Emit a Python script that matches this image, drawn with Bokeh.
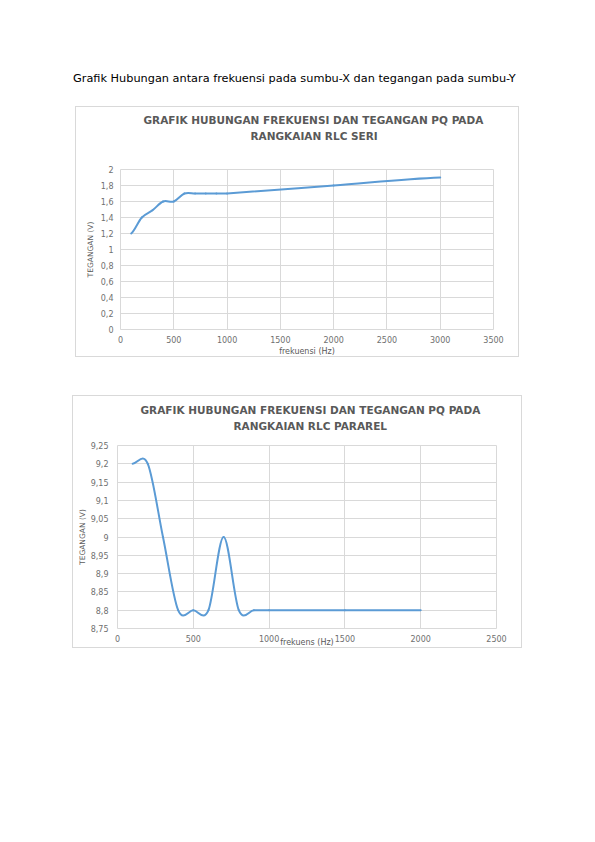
from bokeh.plotting import figure
from bokeh.models import FixedTicker, Title, Div, Range1d
from bokeh.layouts import column
from bokeh.embed import file_html
from bokeh.resources import INLINE

header_text = "Grafik Hubungan antara frekuensi pada sumbu-X dan tegangan pada sumbu-Y"

# --- Chart 1: RLC seri ---
seri_title_1 = "GRAFIK HUBUNGAN FREKUENSI DAN TEGANGAN PQ PADA"
seri_title_2 = "RANGKAIAN RLC SERI"
seri_freq = [100, 200, 300, 400, 500, 600, 700, 800, 900, 1000, 2000, 3000]
seri_volt = [1.2, 1.4, 1.49, 1.6, 1.6, 1.7, 1.7, 1.7, 1.7, 1.7, 1.8, 1.9]
seri_x_ticks = [0, 500, 1000, 1500, 2000, 2500, 3000, 3500]
seri_x_labels = ["0", "500", "1000", "1500", "2000", "2500", "3000", "3500"]
seri_y_ticks = [0, 0.2, 0.4, 0.6, 0.8, 1, 1.2, 1.4, 1.6, 1.8, 2]
seri_y_labels = ["0", "0,2", "0,4", "0,6", "0,8", "1", "1,2", "1,4", "1,6", "1,8", "2"]
seri_xlabel = "frekuensi (Hz)"

# --- Chart 2: RLC pararel ---
par_title_1 = "GRAFIK HUBUNGAN FREKUENSI DAN TEGANGAN PQ PADA"
par_title_2 = "RANGKAIAN RLC PARAREL"
par_freq = [100, 200, 300, 400, 500, 600, 700, 800, 900, 1000, 1500, 2000]
par_volt = [9.2, 9.2, 9.0, 8.8, 8.8, 8.8, 9.0, 8.8, 8.8, 8.8, 8.8, 8.8]
par_x_ticks = [0, 500, 1000, 1500, 2000, 2500]
par_x_labels = ["0", "500", "1000", "1500", "2000", "2500"]
par_y_ticks = [8.75, 8.8, 8.85, 8.9, 8.95, 9.0, 9.05, 9.1, 9.15, 9.2, 9.25]
par_y_labels = ["8,75", "8,8", "8,85", "8,9", "8,95", "9", "9,05", "9,1", "9,15", "9,2", "9,25"]
par_xlabel = "frekuens (Hz)"

ylabel = "TEGANGAN (V)"

LINE = "#5b9bd5"
GRID = "#d9d9d9"
TXT = "#595959"
TICK = "#6f6f6f"
FONT = "DejaVu Sans"


def smooth_segments(xs, ys):
    """Smoothed line (Excel-like): cubic Bezier with tangents from neighbouring points."""
    n = len(xs)
    slopes = []
    for i in range(n):
        if i == 0:
            slopes.append((ys[1] - ys[0]) / (xs[1] - xs[0]) / 2.0)
        elif i == n - 1:
            slopes.append((ys[-1] - ys[-2]) / (xs[-1] - xs[-2]) / 2.0)
        else:
            slopes.append((ys[i + 1] - ys[i - 1]) / (xs[i + 1] - xs[i - 1]))
    seg = dict(x0=[], y0=[], x1=[], y1=[], cx0=[], cy0=[], cx1=[], cy1=[])
    for i in range(n - 1):
        dx = xs[i + 1] - xs[i]
        seg["x0"].append(xs[i]); seg["y0"].append(ys[i])
        seg["x1"].append(xs[i + 1]); seg["y1"].append(ys[i + 1])
        seg["cx0"].append(xs[i] + dx / 3.0)
        seg["cy0"].append(ys[i] + slopes[i] * dx / 3.0)
        seg["cx1"].append(xs[i + 1] - dx / 3.0)
        seg["cy1"].append(ys[i + 1] - slopes[i + 1] * dx / 3.0)
    return seg


def make_chart(width, height, xr, yr, xt, xl, yt, yl, t1, t2, xlab, xs, ys,
               borders, margin, off1, off2, gap, xlab_standoff, ylab_standoff,
               y_label_standoff):
    p = figure(width=width, height=height, x_range=Range1d(*xr), y_range=Range1d(*yr),
               output_backend="svg", toolbar_location=None, title=None,
               min_border_left=borders[0], min_border_right=borders[1],
               min_border_top=borders[2], min_border_bottom=borders[3],
               margin=margin, styles={"border": "1px solid " + GRID})
    p.outline_line_color = GRID
    p.background_fill_color = "white"
    p.border_fill_color = "white"
    p.xgrid.grid_line_color = GRID
    p.ygrid.grid_line_color = GRID
    p.xaxis.ticker = FixedTicker(ticks=xt)
    p.yaxis.ticker = FixedTicker(ticks=yt)
    p.xaxis.major_label_overrides = dict(zip(xt, xl))
    p.yaxis.major_label_overrides = dict(zip(yt, yl))
    for ax in (p.xaxis[0], p.yaxis[0]):
        ax.axis_line_color = None
        ax.major_tick_line_color = None
        ax.minor_tick_line_color = None
        ax.major_tick_in = 0
        ax.major_tick_out = 0
        ax.minor_tick_in = 0
        ax.minor_tick_out = 0
        ax.major_label_text_font = FONT
        ax.major_label_text_font_size = "8px"
        ax.major_label_text_color = TICK
        ax.axis_label_text_font = FONT
        ax.axis_label_text_font_style = "normal"
        ax.axis_label_text_color = TXT
    p.xaxis.major_label_standoff = 6
    p.yaxis.major_label_standoff = y_label_standoff
    p.xaxis.axis_label = xlab
    p.xaxis.axis_label_text_font_size = "8px"
    p.xaxis.axis_label_standoff = xlab_standoff
    p.yaxis.axis_label = ylabel
    p.yaxis.axis_label_text_font_size = "7.5px"
    p.yaxis.axis_label_standoff = ylab_standoff

    seg = smooth_segments(xs, ys)
    p.bezier(x0="x0", y0="y0", x1="x1", y1="y1", cx0="cx0", cy0="cy0", cx1="cx1", cy1="cy1",
             source=seg, line_color=LINE, line_width=2, line_cap="round")

    # blank gap between the plot area and the two-line chart title
    p.add_layout(Title(text=" ", text_font_size="1px", standoff=gap), "above")

    title_kw = dict(align="left", text_font=FONT, text_font_size="10.5px",
                    text_font_style="bold", text_color=TXT, standoff=2)
    p.add_layout(Title(text=t2, offset=off2, **title_kw), "above")
    p.add_layout(Title(text=t1, offset=off1, **title_kw), "above")
    return p


header = Div(text=header_text, width=520, height=20, margin=(71, 0, 0, 73),
             styles={"font-family": FONT, "font-size": "11.3px", "color": "#000000"})

p1 = make_chart(444, 251, (0, 3500), (0, 2), seri_x_ticks, seri_x_labels,
                seri_y_ticks, seri_y_labels, seri_title_1, seri_title_2, seri_xlabel,
                seri_freq, seri_volt,
                borders=(44, 27, 62, 28), margin=(15, 0, 0, 75),
                off1=23, off2=130, gap=24, xlab_standoff=1, ylab_standoff=3,
                y_label_standoff=7)

p2 = make_chart(450, 253, (0, 2500), (8.75, 9.25), par_x_ticks, par_x_labels,
                par_y_ticks, par_y_labels, par_title_1, par_title_2, par_xlabel,
                par_freq, par_volt,
                borders=(44, 27, 49, 21), margin=(38, 0, 0, 72),
                off1=23, off2=116, gap=10, xlab_standoff=-7, ylab_standoff=1,
                y_label_standoff=9)

page = column(header, p1, p2)

open("out.html", "w").write(file_html(page, INLINE))
